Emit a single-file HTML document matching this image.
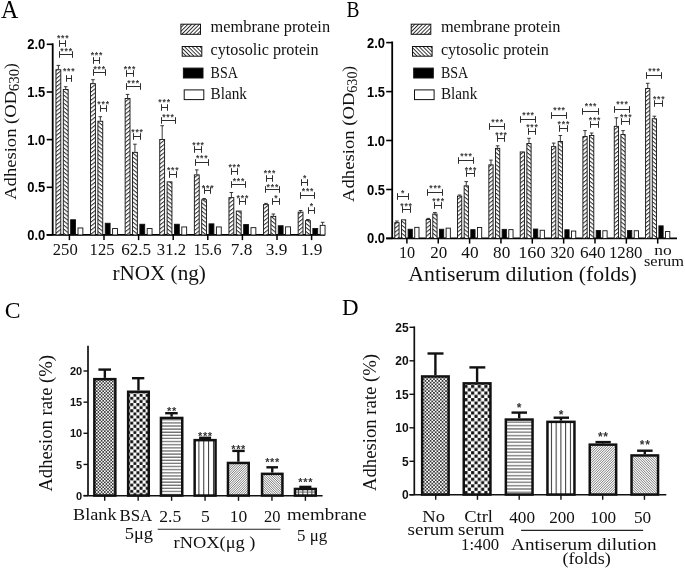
<!DOCTYPE html>
<html><head><meta charset="utf-8"><title>Figure</title>
<style>html,body{margin:0;padding:0;background:#fff;overflow:hidden;}svg{display:block;}</style>
</head><body>
<svg width="685" height="573" viewBox="0 0 685 573">
<defs>
<pattern id="hf" width="6" height="3.2" patternUnits="userSpaceOnUse" patternTransform="rotate(-38)"><rect width="6" height="3.2" fill="#fff"/><rect width="6" height="1.05" fill="#333"/></pattern>
<pattern id="hb" width="6" height="3.2" patternUnits="userSpaceOnUse" patternTransform="rotate(38)"><rect width="6" height="3.2" fill="#fff"/><rect width="6" height="1.05" fill="#333"/></pattern>
<pattern id="lgf" width="6" height="2.72" patternUnits="userSpaceOnUse" patternTransform="rotate(-45)"><rect width="6" height="2.72" fill="#fff"/><rect width="6" height="0.95" fill="#2a2a2a"/></pattern>
<pattern id="lgb" width="6" height="2.72" patternUnits="userSpaceOnUse" patternTransform="rotate(45)"><rect width="6" height="2.72" fill="#fff"/><rect width="6" height="0.95" fill="#2a2a2a"/></pattern>
<pattern id="lfC" width="6" height="1.556" patternUnits="userSpaceOnUse" patternTransform="rotate(-45)"><rect width="6" height="1.556" fill="#fff"/><rect width="6" height="0.72" fill="#2a2a2a"/></pattern>
<pattern id="lbC" width="6" height="1.556" patternUnits="userSpaceOnUse" patternTransform="rotate(45)"><rect width="6" height="1.556" fill="#fff"/><rect width="6" height="0.72" fill="#2a2a2a"/></pattern>
<pattern id="fcC" width="3.200" height="3.200" patternUnits="userSpaceOnUse"><rect width="3.200" height="3.200" fill="#fafafa"/><rect width="1.600" height="1.600" fill="#3a3a3a"/><rect x="1.600" y="1.600" width="1.600" height="1.600" fill="#3a3a3a"/></pattern>
<pattern id="ccC" width="6.200" height="6.200" patternUnits="userSpaceOnUse"><rect width="6.200" height="6.200" fill="#fff"/><rect x="0.1" y="0.1" width="2.900" height="2.900" fill="#111"/><rect x="3.200" y="3.200" width="2.900" height="2.900" fill="#111"/></pattern>
<pattern id="hlC" width="4" height="3.120" patternUnits="userSpaceOnUse"><rect width="4" height="3.120" fill="#fff"/><rect y="1.2" width="4" height="0.9" fill="#333"/></pattern>
<pattern id="lfD" width="6" height="1.665" patternUnits="userSpaceOnUse" patternTransform="rotate(-45)"><rect width="6" height="1.665" fill="#fff"/><rect width="6" height="0.72" fill="#2a2a2a"/></pattern>
<pattern id="lbD" width="6" height="1.665" patternUnits="userSpaceOnUse" patternTransform="rotate(45)"><rect width="6" height="1.665" fill="#fff"/><rect width="6" height="0.72" fill="#2a2a2a"/></pattern>
<pattern id="fcD" width="3.424" height="3.424" patternUnits="userSpaceOnUse"><rect width="3.424" height="3.424" fill="#fafafa"/><rect width="1.712" height="1.712" fill="#3a3a3a"/><rect x="1.712" y="1.712" width="1.712" height="1.712" fill="#3a3a3a"/></pattern>
<pattern id="ccD" width="6.634" height="6.634" patternUnits="userSpaceOnUse"><rect width="6.634" height="6.634" fill="#fff"/><rect x="0.1" y="0.1" width="3.117" height="3.117" fill="#111"/><rect x="3.417" y="3.417" width="3.117" height="3.117" fill="#111"/></pattern>
<pattern id="hlD" width="4" height="3.338" patternUnits="userSpaceOnUse"><rect width="4" height="3.338" fill="#fff"/><rect y="1.2" width="4" height="0.9" fill="#333"/></pattern>
<pattern id="vlC" x="198.4" width="4.85" height="4" patternUnits="userSpaceOnUse"><rect width="4.85" height="4" fill="#fff"/><rect width="1" height="4" fill="#333"/></pattern>
<pattern id="vlD" x="550.9" width="4.75" height="4" patternUnits="userSpaceOnUse"><rect width="4.75" height="4" fill="#fff"/><rect width="1" height="4" fill="#333"/></pattern>
<pattern id="gr" x="297.9" y="490.6" width="4.5" height="3.4" patternUnits="userSpaceOnUse"><rect width="4.5" height="3.4" fill="#fff"/><rect width="1" height="3.4" fill="#333"/><rect y="1.1" width="4.5" height="1" fill="#555"/></pattern>
</defs>
<rect width="685" height="573" fill="#fff"/>
<text x="0.9" y="17.6" font-size="24.5" font-family='"Liberation Serif", serif' textLength="17.3" lengthAdjust="spacingAndGlyphs" fill="#000">A</text>
<text x="346.4" y="16.9" font-size="24" font-family='"Liberation Serif", serif' textLength="13.0" lengthAdjust="spacingAndGlyphs" fill="#000">B</text>
<text x="4.8" y="318.0" font-size="24" font-family='"Liberation Serif", serif' textLength="15.8" lengthAdjust="spacingAndGlyphs" fill="#000">C</text>
<text x="341.9" y="315.4" font-size="24" font-family='"Liberation Serif", serif' textLength="16.6" lengthAdjust="spacingAndGlyphs" fill="#000">D</text>
<line x1="52.70" y1="43.30" x2="52.70" y2="234.90" stroke="#000" stroke-width="1.8"/>
<line x1="46.70" y1="44.30" x2="52.70" y2="44.30" stroke="#000" stroke-width="1.6"/>
<text x="45.3" y="49.3" font-size="14" font-family='"Liberation Sans", sans-serif' font-weight="bold" text-anchor="end" textLength="18.0" lengthAdjust="spacingAndGlyphs" fill="#000">2.0</text>
<line x1="46.70" y1="92.00" x2="52.70" y2="92.00" stroke="#000" stroke-width="1.6"/>
<text x="45.3" y="97.0" font-size="14" font-family='"Liberation Sans", sans-serif' font-weight="bold" text-anchor="end" textLength="18.0" lengthAdjust="spacingAndGlyphs" fill="#000">1.5</text>
<line x1="46.70" y1="139.60" x2="52.70" y2="139.60" stroke="#000" stroke-width="1.6"/>
<text x="45.3" y="144.6" font-size="14" font-family='"Liberation Sans", sans-serif' font-weight="bold" text-anchor="end" textLength="18.0" lengthAdjust="spacingAndGlyphs" fill="#000">1.0</text>
<line x1="46.70" y1="187.30" x2="52.70" y2="187.30" stroke="#000" stroke-width="1.6"/>
<text x="45.3" y="192.3" font-size="14" font-family='"Liberation Sans", sans-serif' font-weight="bold" text-anchor="end" textLength="18.0" lengthAdjust="spacingAndGlyphs" fill="#000">0.5</text>
<line x1="46.70" y1="234.90" x2="52.70" y2="234.90" stroke="#000" stroke-width="1.6"/>
<text x="45.3" y="239.9" font-size="14" font-family='"Liberation Sans", sans-serif' font-weight="bold" text-anchor="end" textLength="18.0" lengthAdjust="spacingAndGlyphs" fill="#000">0.0</text>
<line x1="46.70" y1="234.90" x2="325.00" y2="234.90" stroke="#000" stroke-width="1.8"/>
<line x1="69.40" y1="234.90" x2="69.40" y2="240.10" stroke="#000" stroke-width="1.5"/>
<line x1="104.00" y1="234.90" x2="104.00" y2="240.10" stroke="#000" stroke-width="1.5"/>
<line x1="138.60" y1="234.90" x2="138.60" y2="240.10" stroke="#000" stroke-width="1.5"/>
<line x1="173.20" y1="234.90" x2="173.20" y2="240.10" stroke="#000" stroke-width="1.5"/>
<line x1="207.80" y1="234.90" x2="207.80" y2="240.10" stroke="#000" stroke-width="1.5"/>
<line x1="242.40" y1="234.90" x2="242.40" y2="240.10" stroke="#000" stroke-width="1.5"/>
<line x1="277.00" y1="234.90" x2="277.00" y2="240.10" stroke="#000" stroke-width="1.5"/>
<line x1="311.60" y1="234.90" x2="311.60" y2="240.10" stroke="#000" stroke-width="1.5"/>
<line x1="58.38" y1="65.40" x2="58.38" y2="69.30" stroke="#222" stroke-width="0.9"/>
<line x1="56.58" y1="65.40" x2="60.18" y2="65.40" stroke="#222" stroke-width="0.9"/>
<rect x="55.95" y="69.75" width="4.85" height="165.20" fill="url(#hf)" stroke="#111" stroke-width="0.9"/>
<line x1="65.73" y1="86.70" x2="65.73" y2="89.00" stroke="#222" stroke-width="0.9"/>
<line x1="63.93" y1="86.70" x2="67.53" y2="86.70" stroke="#222" stroke-width="0.9"/>
<rect x="63.30" y="89.45" width="4.85" height="145.50" fill="url(#hb)" stroke="#111" stroke-width="0.9"/>
<rect x="70.65" y="219.75" width="4.85" height="15.20" fill="#000" stroke="#111" stroke-width="0.9"/>
<rect x="78.00" y="227.95" width="4.85" height="7.00" fill="#fff" stroke="#111" stroke-width="0.9"/>
<line x1="59.50" y1="43.50" x2="65.50" y2="43.50" stroke="#2e2e2e" stroke-width="1.0"/>
<line x1="59.50" y1="40.20" x2="59.50" y2="46.80" stroke="#2e2e2e" stroke-width="1.0"/>
<line x1="65.50" y1="40.20" x2="65.50" y2="46.80" stroke="#2e2e2e" stroke-width="1.0"/>
<text x="62.8" y="41.3" font-size="8.6" font-family='"Liberation Sans", sans-serif' font-weight="bold" text-anchor="middle" fill="#3a3a3a" textLength="11.7" lengthAdjust="spacing">***</text>
<line x1="59.50" y1="54.50" x2="72.50" y2="54.50" stroke="#2e2e2e" stroke-width="1.0"/>
<line x1="59.50" y1="51.20" x2="59.50" y2="57.80" stroke="#2e2e2e" stroke-width="1.0"/>
<line x1="72.50" y1="51.20" x2="72.50" y2="57.80" stroke="#2e2e2e" stroke-width="1.0"/>
<text x="66.2" y="53.5" font-size="8.6" font-family='"Liberation Sans", sans-serif' font-weight="bold" text-anchor="middle" fill="#3a3a3a" textLength="11.7" lengthAdjust="spacing">***</text>
<line x1="66.50" y1="78.50" x2="71.50" y2="78.50" stroke="#2e2e2e" stroke-width="1.0"/>
<line x1="66.50" y1="75.20" x2="66.50" y2="81.80" stroke="#2e2e2e" stroke-width="1.0"/>
<line x1="71.50" y1="75.20" x2="71.50" y2="81.80" stroke="#2e2e2e" stroke-width="1.0"/>
<text x="68.8" y="74.0" font-size="8.6" font-family='"Liberation Sans", sans-serif' font-weight="bold" text-anchor="middle" fill="#3a3a3a" textLength="11.7" lengthAdjust="spacing">***</text>
<line x1="92.97" y1="79.70" x2="92.97" y2="83.20" stroke="#222" stroke-width="0.9"/>
<line x1="91.17" y1="79.70" x2="94.77" y2="79.70" stroke="#222" stroke-width="0.9"/>
<rect x="90.55" y="83.65" width="4.85" height="151.30" fill="url(#hf)" stroke="#111" stroke-width="0.9"/>
<line x1="100.33" y1="116.70" x2="100.33" y2="120.80" stroke="#222" stroke-width="0.9"/>
<line x1="98.53" y1="116.70" x2="102.12" y2="116.70" stroke="#222" stroke-width="0.9"/>
<rect x="97.90" y="121.25" width="4.85" height="113.70" fill="url(#hb)" stroke="#111" stroke-width="0.9"/>
<rect x="105.25" y="223.25" width="4.85" height="11.70" fill="#000" stroke="#111" stroke-width="0.9"/>
<rect x="112.60" y="228.55" width="4.85" height="6.40" fill="#fff" stroke="#111" stroke-width="0.9"/>
<line x1="93.50" y1="60.50" x2="99.50" y2="60.50" stroke="#2e2e2e" stroke-width="1.0"/>
<line x1="93.50" y1="57.20" x2="93.50" y2="63.80" stroke="#2e2e2e" stroke-width="1.0"/>
<line x1="99.50" y1="57.20" x2="99.50" y2="63.80" stroke="#2e2e2e" stroke-width="1.0"/>
<text x="96.5" y="57.9" font-size="8.6" font-family='"Liberation Sans", sans-serif' font-weight="bold" text-anchor="middle" fill="#3a3a3a" textLength="11.7" lengthAdjust="spacing">***</text>
<line x1="93.50" y1="72.50" x2="105.50" y2="72.50" stroke="#2e2e2e" stroke-width="1.0"/>
<line x1="93.50" y1="69.20" x2="93.50" y2="75.80" stroke="#2e2e2e" stroke-width="1.0"/>
<line x1="105.50" y1="69.20" x2="105.50" y2="75.80" stroke="#2e2e2e" stroke-width="1.0"/>
<text x="99.3" y="71.5" font-size="8.6" font-family='"Liberation Sans", sans-serif' font-weight="bold" text-anchor="middle" fill="#3a3a3a" textLength="11.7" lengthAdjust="spacing">***</text>
<line x1="100.50" y1="108.50" x2="106.50" y2="108.50" stroke="#2e2e2e" stroke-width="1.0"/>
<line x1="100.50" y1="105.20" x2="100.50" y2="111.80" stroke="#2e2e2e" stroke-width="1.0"/>
<line x1="106.50" y1="105.20" x2="106.50" y2="111.80" stroke="#2e2e2e" stroke-width="1.0"/>
<text x="103.2" y="106.7" font-size="8.6" font-family='"Liberation Sans", sans-serif' font-weight="bold" text-anchor="middle" fill="#3a3a3a" textLength="11.7" lengthAdjust="spacing">***</text>
<line x1="127.58" y1="94.40" x2="127.58" y2="98.00" stroke="#222" stroke-width="0.9"/>
<line x1="125.78" y1="94.40" x2="129.38" y2="94.40" stroke="#222" stroke-width="0.9"/>
<rect x="125.15" y="98.45" width="4.85" height="136.50" fill="url(#hf)" stroke="#111" stroke-width="0.9"/>
<line x1="134.93" y1="144.20" x2="134.93" y2="151.90" stroke="#222" stroke-width="0.9"/>
<line x1="133.12" y1="144.20" x2="136.73" y2="144.20" stroke="#222" stroke-width="0.9"/>
<rect x="132.50" y="152.35" width="4.85" height="82.60" fill="url(#hb)" stroke="#111" stroke-width="0.9"/>
<rect x="139.85" y="224.25" width="4.85" height="10.70" fill="#000" stroke="#111" stroke-width="0.9"/>
<rect x="147.20" y="228.55" width="4.85" height="6.40" fill="#fff" stroke="#111" stroke-width="0.9"/>
<line x1="126.50" y1="73.50" x2="133.50" y2="73.50" stroke="#2e2e2e" stroke-width="1.0"/>
<line x1="126.50" y1="70.20" x2="126.50" y2="76.80" stroke="#2e2e2e" stroke-width="1.0"/>
<line x1="133.50" y1="70.20" x2="133.50" y2="76.80" stroke="#2e2e2e" stroke-width="1.0"/>
<text x="129.5" y="72.1" font-size="8.6" font-family='"Liberation Sans", sans-serif' font-weight="bold" text-anchor="middle" fill="#3a3a3a" textLength="11.7" lengthAdjust="spacing">***</text>
<line x1="126.50" y1="86.50" x2="140.50" y2="86.50" stroke="#2e2e2e" stroke-width="1.0"/>
<line x1="126.50" y1="83.20" x2="126.50" y2="89.80" stroke="#2e2e2e" stroke-width="1.0"/>
<line x1="140.50" y1="83.20" x2="140.50" y2="89.80" stroke="#2e2e2e" stroke-width="1.0"/>
<text x="133.2" y="85.5" font-size="8.6" font-family='"Liberation Sans", sans-serif' font-weight="bold" text-anchor="middle" fill="#3a3a3a" textLength="11.7" lengthAdjust="spacing">***</text>
<line x1="133.50" y1="136.50" x2="140.50" y2="136.50" stroke="#2e2e2e" stroke-width="1.0"/>
<line x1="133.50" y1="133.20" x2="133.50" y2="139.80" stroke="#2e2e2e" stroke-width="1.0"/>
<line x1="140.50" y1="133.20" x2="140.50" y2="139.80" stroke="#2e2e2e" stroke-width="1.0"/>
<text x="137.1" y="134.9" font-size="8.6" font-family='"Liberation Sans", sans-serif' font-weight="bold" text-anchor="middle" fill="#3a3a3a" textLength="11.7" lengthAdjust="spacing">***</text>
<line x1="162.18" y1="125.70" x2="162.18" y2="139.00" stroke="#222" stroke-width="0.9"/>
<line x1="160.38" y1="125.70" x2="163.98" y2="125.70" stroke="#222" stroke-width="0.9"/>
<rect x="159.75" y="139.45" width="4.85" height="95.50" fill="url(#hf)" stroke="#111" stroke-width="0.9"/>
<rect x="167.10" y="181.85" width="4.85" height="53.10" fill="url(#hb)" stroke="#111" stroke-width="0.9"/>
<rect x="174.45" y="224.25" width="4.85" height="10.70" fill="#000" stroke="#111" stroke-width="0.9"/>
<rect x="181.80" y="226.95" width="4.85" height="8.00" fill="#fff" stroke="#111" stroke-width="0.9"/>
<line x1="161.50" y1="107.50" x2="167.50" y2="107.50" stroke="#2e2e2e" stroke-width="1.0"/>
<line x1="161.50" y1="104.20" x2="161.50" y2="110.80" stroke="#2e2e2e" stroke-width="1.0"/>
<line x1="167.50" y1="104.20" x2="167.50" y2="110.80" stroke="#2e2e2e" stroke-width="1.0"/>
<text x="164.2" y="104.9" font-size="8.6" font-family='"Liberation Sans", sans-serif' font-weight="bold" text-anchor="middle" fill="#3a3a3a" textLength="11.7" lengthAdjust="spacing">***</text>
<line x1="161.50" y1="120.50" x2="175.50" y2="120.50" stroke="#2e2e2e" stroke-width="1.0"/>
<line x1="161.50" y1="117.20" x2="161.50" y2="123.80" stroke="#2e2e2e" stroke-width="1.0"/>
<line x1="175.50" y1="117.20" x2="175.50" y2="123.80" stroke="#2e2e2e" stroke-width="1.0"/>
<text x="168.0" y="120.1" font-size="8.6" font-family='"Liberation Sans", sans-serif' font-weight="bold" text-anchor="middle" fill="#3a3a3a" textLength="11.7" lengthAdjust="spacing">***</text>
<line x1="169.50" y1="174.50" x2="176.50" y2="174.50" stroke="#2e2e2e" stroke-width="1.0"/>
<line x1="169.50" y1="171.20" x2="169.50" y2="177.80" stroke="#2e2e2e" stroke-width="1.0"/>
<line x1="176.50" y1="171.20" x2="176.50" y2="177.80" stroke="#2e2e2e" stroke-width="1.0"/>
<text x="172.8" y="173.2" font-size="8.6" font-family='"Liberation Sans", sans-serif' font-weight="bold" text-anchor="middle" fill="#3a3a3a" textLength="11.7" lengthAdjust="spacing">***</text>
<line x1="196.78" y1="169.90" x2="196.78" y2="174.40" stroke="#222" stroke-width="0.9"/>
<line x1="194.97" y1="169.90" x2="198.58" y2="169.90" stroke="#222" stroke-width="0.9"/>
<rect x="194.35" y="174.85" width="4.85" height="60.10" fill="url(#hf)" stroke="#111" stroke-width="0.9"/>
<line x1="204.12" y1="198.50" x2="204.12" y2="199.30" stroke="#222" stroke-width="0.9"/>
<line x1="202.32" y1="198.50" x2="205.93" y2="198.50" stroke="#222" stroke-width="0.9"/>
<rect x="201.70" y="199.75" width="4.85" height="35.20" fill="url(#hb)" stroke="#111" stroke-width="0.9"/>
<rect x="209.05" y="223.85" width="4.85" height="11.10" fill="#000" stroke="#111" stroke-width="0.9"/>
<rect x="216.40" y="226.95" width="4.85" height="8.00" fill="#fff" stroke="#111" stroke-width="0.9"/>
<line x1="194.50" y1="149.50" x2="201.50" y2="149.50" stroke="#2e2e2e" stroke-width="1.0"/>
<line x1="194.50" y1="146.20" x2="194.50" y2="152.80" stroke="#2e2e2e" stroke-width="1.0"/>
<line x1="201.50" y1="146.20" x2="201.50" y2="152.80" stroke="#2e2e2e" stroke-width="1.0"/>
<text x="198.1" y="147.9" font-size="8.6" font-family='"Liberation Sans", sans-serif' font-weight="bold" text-anchor="middle" fill="#3a3a3a" textLength="11.7" lengthAdjust="spacing">***</text>
<line x1="195.50" y1="162.50" x2="208.50" y2="162.50" stroke="#2e2e2e" stroke-width="1.0"/>
<line x1="195.50" y1="159.20" x2="195.50" y2="165.80" stroke="#2e2e2e" stroke-width="1.0"/>
<line x1="208.50" y1="159.20" x2="208.50" y2="165.80" stroke="#2e2e2e" stroke-width="1.0"/>
<text x="201.8" y="161.4" font-size="8.6" font-family='"Liberation Sans", sans-serif' font-weight="bold" text-anchor="middle" fill="#3a3a3a" textLength="11.7" lengthAdjust="spacing">***</text>
<line x1="204.50" y1="190.50" x2="210.50" y2="190.50" stroke="#2e2e2e" stroke-width="1.0"/>
<line x1="204.50" y1="187.20" x2="204.50" y2="193.80" stroke="#2e2e2e" stroke-width="1.0"/>
<line x1="210.50" y1="187.20" x2="210.50" y2="193.80" stroke="#2e2e2e" stroke-width="1.0"/>
<text x="207.7" y="190.5" font-size="8.6" font-family='"Liberation Sans", sans-serif' font-weight="bold" text-anchor="middle" fill="#3a3a3a" textLength="11.7" lengthAdjust="spacing">***</text>
<line x1="231.38" y1="192.50" x2="231.38" y2="197.20" stroke="#222" stroke-width="0.9"/>
<line x1="229.57" y1="192.50" x2="233.18" y2="192.50" stroke="#222" stroke-width="0.9"/>
<rect x="228.95" y="197.65" width="4.85" height="37.30" fill="url(#hf)" stroke="#111" stroke-width="0.9"/>
<rect x="236.30" y="211.05" width="4.85" height="23.90" fill="url(#hb)" stroke="#111" stroke-width="0.9"/>
<rect x="243.65" y="224.55" width="4.85" height="10.40" fill="#000" stroke="#111" stroke-width="0.9"/>
<rect x="251.00" y="227.65" width="4.85" height="7.30" fill="#fff" stroke="#111" stroke-width="0.9"/>
<line x1="231.50" y1="171.50" x2="237.50" y2="171.50" stroke="#2e2e2e" stroke-width="1.0"/>
<line x1="231.50" y1="168.20" x2="231.50" y2="174.80" stroke="#2e2e2e" stroke-width="1.0"/>
<line x1="237.50" y1="168.20" x2="237.50" y2="174.80" stroke="#2e2e2e" stroke-width="1.0"/>
<text x="234.3" y="170.1" font-size="8.6" font-family='"Liberation Sans", sans-serif' font-weight="bold" text-anchor="middle" fill="#3a3a3a" textLength="11.7" lengthAdjust="spacing">***</text>
<line x1="231.50" y1="184.50" x2="245.50" y2="184.50" stroke="#2e2e2e" stroke-width="1.0"/>
<line x1="231.50" y1="181.20" x2="231.50" y2="187.80" stroke="#2e2e2e" stroke-width="1.0"/>
<line x1="245.50" y1="181.20" x2="245.50" y2="187.80" stroke="#2e2e2e" stroke-width="1.0"/>
<text x="238.5" y="183.7" font-size="8.6" font-family='"Liberation Sans", sans-serif' font-weight="bold" text-anchor="middle" fill="#3a3a3a" textLength="11.7" lengthAdjust="spacing">***</text>
<line x1="239.50" y1="201.50" x2="245.50" y2="201.50" stroke="#2e2e2e" stroke-width="1.0"/>
<line x1="239.50" y1="198.20" x2="239.50" y2="204.80" stroke="#2e2e2e" stroke-width="1.0"/>
<line x1="245.50" y1="198.20" x2="245.50" y2="204.80" stroke="#2e2e2e" stroke-width="1.0"/>
<text x="242.4" y="200.6" font-size="8.6" font-family='"Liberation Sans", sans-serif' font-weight="bold" text-anchor="middle" fill="#3a3a3a" textLength="11.7" lengthAdjust="spacing">***</text>
<line x1="265.98" y1="203.40" x2="265.98" y2="204.20" stroke="#222" stroke-width="0.9"/>
<line x1="264.18" y1="203.40" x2="267.78" y2="203.40" stroke="#222" stroke-width="0.9"/>
<rect x="263.55" y="204.65" width="4.85" height="30.30" fill="url(#hf)" stroke="#111" stroke-width="0.9"/>
<line x1="273.32" y1="214.00" x2="273.32" y2="215.90" stroke="#222" stroke-width="0.9"/>
<line x1="271.52" y1="214.00" x2="275.12" y2="214.00" stroke="#222" stroke-width="0.9"/>
<rect x="270.90" y="216.35" width="4.85" height="18.60" fill="url(#hb)" stroke="#111" stroke-width="0.9"/>
<rect x="278.25" y="225.75" width="4.85" height="9.20" fill="#000" stroke="#111" stroke-width="0.9"/>
<rect x="285.60" y="226.85" width="4.85" height="8.10" fill="#fff" stroke="#111" stroke-width="0.9"/>
<line x1="266.50" y1="178.50" x2="272.50" y2="178.50" stroke="#2e2e2e" stroke-width="1.0"/>
<line x1="266.50" y1="175.20" x2="266.50" y2="181.80" stroke="#2e2e2e" stroke-width="1.0"/>
<line x1="272.50" y1="175.20" x2="272.50" y2="181.80" stroke="#2e2e2e" stroke-width="1.0"/>
<text x="269.5" y="175.5" font-size="8.6" font-family='"Liberation Sans", sans-serif' font-weight="bold" text-anchor="middle" fill="#3a3a3a" textLength="11.7" lengthAdjust="spacing">***</text>
<line x1="265.50" y1="189.50" x2="279.50" y2="189.50" stroke="#2e2e2e" stroke-width="1.0"/>
<line x1="265.50" y1="186.20" x2="265.50" y2="192.80" stroke="#2e2e2e" stroke-width="1.0"/>
<line x1="279.50" y1="186.20" x2="279.50" y2="192.80" stroke="#2e2e2e" stroke-width="1.0"/>
<text x="272.4" y="189.7" font-size="8.6" font-family='"Liberation Sans", sans-serif' font-weight="bold" text-anchor="middle" fill="#3a3a3a" textLength="11.7" lengthAdjust="spacing">***</text>
<line x1="272.50" y1="201.50" x2="279.50" y2="201.50" stroke="#2e2e2e" stroke-width="1.0"/>
<line x1="272.50" y1="198.20" x2="272.50" y2="204.80" stroke="#2e2e2e" stroke-width="1.0"/>
<line x1="279.50" y1="198.20" x2="279.50" y2="204.80" stroke="#2e2e2e" stroke-width="1.0"/>
<text x="276.0" y="200.6" font-size="8.6" font-family='"Liberation Sans", sans-serif' font-weight="bold" text-anchor="middle" fill="#3a3a3a" textLength="3.9" lengthAdjust="spacing">*</text>
<line x1="300.58" y1="210.50" x2="300.58" y2="211.70" stroke="#222" stroke-width="0.9"/>
<line x1="298.78" y1="210.50" x2="302.38" y2="210.50" stroke="#222" stroke-width="0.9"/>
<rect x="298.15" y="212.15" width="4.85" height="22.80" fill="url(#hf)" stroke="#111" stroke-width="0.9"/>
<line x1="307.93" y1="219.50" x2="307.93" y2="220.20" stroke="#222" stroke-width="0.9"/>
<line x1="306.12" y1="219.50" x2="309.73" y2="219.50" stroke="#222" stroke-width="0.9"/>
<rect x="305.50" y="220.65" width="4.85" height="14.30" fill="url(#hb)" stroke="#111" stroke-width="0.9"/>
<rect x="312.85" y="228.45" width="4.85" height="6.50" fill="#000" stroke="#111" stroke-width="0.9"/>
<line x1="322.62" y1="222.30" x2="322.62" y2="224.90" stroke="#222" stroke-width="0.9"/>
<line x1="320.82" y1="222.30" x2="324.43" y2="222.30" stroke="#222" stroke-width="0.9"/>
<rect x="320.20" y="225.35" width="4.85" height="9.60" fill="#fff" stroke="#111" stroke-width="0.9"/>
<line x1="301.50" y1="182.50" x2="307.50" y2="182.50" stroke="#2e2e2e" stroke-width="1.0"/>
<line x1="301.50" y1="179.20" x2="301.50" y2="185.80" stroke="#2e2e2e" stroke-width="1.0"/>
<line x1="307.50" y1="179.20" x2="307.50" y2="185.80" stroke="#2e2e2e" stroke-width="1.0"/>
<text x="304.6" y="180.5" font-size="8.6" font-family='"Liberation Sans", sans-serif' font-weight="bold" text-anchor="middle" fill="#3a3a3a" textLength="3.9" lengthAdjust="spacing">*</text>
<line x1="300.50" y1="195.50" x2="314.50" y2="195.50" stroke="#2e2e2e" stroke-width="1.0"/>
<line x1="300.50" y1="192.20" x2="300.50" y2="198.80" stroke="#2e2e2e" stroke-width="1.0"/>
<line x1="314.50" y1="192.20" x2="314.50" y2="198.80" stroke="#2e2e2e" stroke-width="1.0"/>
<text x="307.6" y="194.3" font-size="8.6" font-family='"Liberation Sans", sans-serif' font-weight="bold" text-anchor="middle" fill="#3a3a3a" textLength="11.7" lengthAdjust="spacing">***</text>
<line x1="308.50" y1="210.50" x2="314.50" y2="210.50" stroke="#2e2e2e" stroke-width="1.0"/>
<line x1="308.50" y1="207.20" x2="308.50" y2="213.80" stroke="#2e2e2e" stroke-width="1.0"/>
<line x1="314.50" y1="207.20" x2="314.50" y2="213.80" stroke="#2e2e2e" stroke-width="1.0"/>
<text x="311.5" y="208.9" font-size="8.6" font-family='"Liberation Sans", sans-serif' font-weight="bold" text-anchor="middle" fill="#3a3a3a" textLength="3.9" lengthAdjust="spacing">*</text>
<rect x="180.90" y="24.20" width="19.60" height="10.10" fill="url(#lgf)" stroke="#111" stroke-width="1.0"/>
<text x="210.6" y="31.8" font-size="16.2" font-family='"Liberation Serif", serif' textLength="119.5" lengthAdjust="spacingAndGlyphs" fill="#111">membrane protein</text>
<rect x="182.20" y="46.50" width="19.60" height="9.70" fill="url(#lgb)" stroke="#111" stroke-width="1.0"/>
<text x="210.6" y="54.7" font-size="16.2" font-family='"Liberation Serif", serif' textLength="108.0" lengthAdjust="spacingAndGlyphs" fill="#111">cytosolic protein</text>
<rect x="183.40" y="68.10" width="19.60" height="9.90" fill="#000" stroke="#111" stroke-width="1.0"/>
<text x="210.6" y="77.5" font-size="16.2" font-family='"Liberation Serif", serif' textLength="27.3" lengthAdjust="spacingAndGlyphs" fill="#111">BSA</text>
<rect x="184.20" y="89.90" width="19.60" height="9.70" fill="#fff" stroke="#111" stroke-width="1.0"/>
<text x="210.6" y="99.4" font-size="16.2" font-family='"Liberation Serif", serif' textLength="36.4" lengthAdjust="spacingAndGlyphs" fill="#111">Blank</text>
<text x="52.8" y="255.4" font-size="17" font-family='"Liberation Serif", serif' textLength="24.9" lengthAdjust="spacingAndGlyphs" fill="#111">250</text>
<text x="89.6" y="255.4" font-size="17" font-family='"Liberation Serif", serif' textLength="24.9" lengthAdjust="spacingAndGlyphs" fill="#111">125</text>
<text x="121.2" y="255.4" font-size="17" font-family='"Liberation Serif", serif' textLength="29.9" lengthAdjust="spacingAndGlyphs" fill="#111">62.5</text>
<text x="156.8" y="255.4" font-size="17" font-family='"Liberation Serif", serif' textLength="29.3" lengthAdjust="spacingAndGlyphs" fill="#111">31.2</text>
<text x="193.5" y="255.4" font-size="17" font-family='"Liberation Serif", serif' textLength="28.1" lengthAdjust="spacingAndGlyphs" fill="#111">15.6</text>
<text x="230.7" y="255.4" font-size="17" font-family='"Liberation Serif", serif' textLength="21.6" lengthAdjust="spacingAndGlyphs" fill="#111">7.8</text>
<text x="265.7" y="255.4" font-size="17" font-family='"Liberation Serif", serif' textLength="21.6" lengthAdjust="spacingAndGlyphs" fill="#111">3.9</text>
<text x="300.7" y="255.4" font-size="17" font-family='"Liberation Serif", serif' textLength="21.7" lengthAdjust="spacingAndGlyphs" fill="#111">1.9</text>
<text x="112.4" y="279.9" font-size="21" font-family='"Liberation Serif", serif' textLength="93.5" lengthAdjust="spacingAndGlyphs" fill="#111">rNOX (ng)</text>
<text x="0" y="0" font-size="17.6" font-family='"Liberation Serif", serif' fill="#111" transform="translate(15.7 199.8) rotate(-90)" textLength="108.9" lengthAdjust="spacingAndGlyphs">Adhesion (OD</text>
<text x="0" y="0" font-size="14.2" font-family='"Liberation Serif", serif' fill="#111" transform="translate(19.4 91.2) rotate(-90)" textLength="22.3" lengthAdjust="spacingAndGlyphs">630</text>
<text x="0" y="0" font-size="17.6" font-family='"Liberation Serif", serif' fill="#111" transform="translate(15.7 69.1) rotate(-90)">)</text>
<line x1="392.20" y1="41.50" x2="392.20" y2="238.40" stroke="#000" stroke-width="1.8"/>
<line x1="386.20" y1="42.60" x2="392.20" y2="42.60" stroke="#000" stroke-width="1.6"/>
<text x="385.0" y="47.6" font-size="14" font-family='"Liberation Sans", sans-serif' font-weight="bold" text-anchor="end" textLength="18.0" lengthAdjust="spacingAndGlyphs" fill="#000">2.0</text>
<line x1="386.20" y1="91.60" x2="392.20" y2="91.60" stroke="#000" stroke-width="1.6"/>
<text x="385.0" y="96.6" font-size="14" font-family='"Liberation Sans", sans-serif' font-weight="bold" text-anchor="end" textLength="18.0" lengthAdjust="spacingAndGlyphs" fill="#000">1.5</text>
<line x1="386.20" y1="140.50" x2="392.20" y2="140.50" stroke="#000" stroke-width="1.6"/>
<text x="385.0" y="145.5" font-size="14" font-family='"Liberation Sans", sans-serif' font-weight="bold" text-anchor="end" textLength="18.0" lengthAdjust="spacingAndGlyphs" fill="#000">1.0</text>
<line x1="386.20" y1="189.50" x2="392.20" y2="189.50" stroke="#000" stroke-width="1.6"/>
<text x="385.0" y="194.5" font-size="14" font-family='"Liberation Sans", sans-serif' font-weight="bold" text-anchor="end" textLength="18.0" lengthAdjust="spacingAndGlyphs" fill="#000">0.5</text>
<line x1="386.20" y1="238.40" x2="392.20" y2="238.40" stroke="#000" stroke-width="1.6"/>
<text x="385.0" y="243.4" font-size="14" font-family='"Liberation Sans", sans-serif' font-weight="bold" text-anchor="end" textLength="18.0" lengthAdjust="spacingAndGlyphs" fill="#000">0.0</text>
<line x1="386.20" y1="238.40" x2="677.00" y2="238.40" stroke="#000" stroke-width="1.8"/>
<line x1="406.90" y1="238.40" x2="406.90" y2="243.60" stroke="#000" stroke-width="1.5"/>
<line x1="438.25" y1="238.40" x2="438.25" y2="243.60" stroke="#000" stroke-width="1.5"/>
<line x1="469.60" y1="238.40" x2="469.60" y2="243.60" stroke="#000" stroke-width="1.5"/>
<line x1="500.95" y1="238.40" x2="500.95" y2="243.60" stroke="#000" stroke-width="1.5"/>
<line x1="532.30" y1="238.40" x2="532.30" y2="243.60" stroke="#000" stroke-width="1.5"/>
<line x1="563.65" y1="238.40" x2="563.65" y2="243.60" stroke="#000" stroke-width="1.5"/>
<line x1="595.00" y1="238.40" x2="595.00" y2="243.60" stroke="#000" stroke-width="1.5"/>
<line x1="626.35" y1="238.40" x2="626.35" y2="243.60" stroke="#000" stroke-width="1.5"/>
<line x1="657.70" y1="238.40" x2="657.70" y2="243.60" stroke="#000" stroke-width="1.5"/>
<line x1="396.92" y1="221.00" x2="396.92" y2="222.20" stroke="#222" stroke-width="0.9"/>
<line x1="395.12" y1="221.00" x2="398.72" y2="221.00" stroke="#222" stroke-width="0.9"/>
<rect x="394.80" y="222.65" width="4.25" height="15.80" fill="url(#hf)" stroke="#111" stroke-width="0.9"/>
<rect x="401.45" y="219.85" width="4.25" height="18.60" fill="url(#hb)" stroke="#111" stroke-width="0.9"/>
<rect x="408.10" y="229.25" width="4.25" height="9.20" fill="#000" stroke="#111" stroke-width="0.9"/>
<rect x="414.75" y="227.35" width="4.25" height="11.10" fill="#fff" stroke="#111" stroke-width="0.9"/>
<line x1="397.50" y1="196.50" x2="408.50" y2="196.50" stroke="#2e2e2e" stroke-width="1.0"/>
<line x1="397.50" y1="193.20" x2="397.50" y2="199.80" stroke="#2e2e2e" stroke-width="1.0"/>
<line x1="408.50" y1="193.20" x2="408.50" y2="199.80" stroke="#2e2e2e" stroke-width="1.0"/>
<text x="402.8" y="195.9" font-size="8.6" font-family='"Liberation Sans", sans-serif' font-weight="bold" text-anchor="middle" fill="#3a3a3a" textLength="3.9" lengthAdjust="spacing">*</text>
<line x1="402.50" y1="209.50" x2="410.50" y2="209.50" stroke="#2e2e2e" stroke-width="1.0"/>
<line x1="402.50" y1="206.20" x2="402.50" y2="212.80" stroke="#2e2e2e" stroke-width="1.0"/>
<line x1="410.50" y1="206.20" x2="410.50" y2="212.80" stroke="#2e2e2e" stroke-width="1.0"/>
<text x="406.1" y="208.5" font-size="8.6" font-family='"Liberation Sans", sans-serif' font-weight="bold" text-anchor="middle" fill="#3a3a3a" textLength="11.7" lengthAdjust="spacing">***</text>
<line x1="428.27" y1="218.40" x2="428.27" y2="219.10" stroke="#222" stroke-width="0.9"/>
<line x1="426.47" y1="218.40" x2="430.07" y2="218.40" stroke="#222" stroke-width="0.9"/>
<rect x="426.15" y="219.55" width="4.25" height="18.90" fill="url(#hf)" stroke="#111" stroke-width="0.9"/>
<line x1="434.93" y1="212.50" x2="434.93" y2="213.60" stroke="#222" stroke-width="0.9"/>
<line x1="433.12" y1="212.50" x2="436.73" y2="212.50" stroke="#222" stroke-width="0.9"/>
<rect x="432.80" y="214.05" width="4.25" height="24.40" fill="url(#hb)" stroke="#111" stroke-width="0.9"/>
<rect x="439.45" y="229.25" width="4.25" height="9.20" fill="#000" stroke="#111" stroke-width="0.9"/>
<rect x="446.10" y="228.15" width="4.25" height="10.30" fill="#fff" stroke="#111" stroke-width="0.9"/>
<line x1="427.50" y1="192.50" x2="442.50" y2="192.50" stroke="#2e2e2e" stroke-width="1.0"/>
<line x1="427.50" y1="189.20" x2="427.50" y2="195.80" stroke="#2e2e2e" stroke-width="1.0"/>
<line x1="442.50" y1="189.20" x2="442.50" y2="195.80" stroke="#2e2e2e" stroke-width="1.0"/>
<text x="435.1" y="191.2" font-size="8.6" font-family='"Liberation Sans", sans-serif' font-weight="bold" text-anchor="middle" fill="#3a3a3a" textLength="11.7" lengthAdjust="spacing">***</text>
<line x1="434.50" y1="205.50" x2="441.50" y2="205.50" stroke="#2e2e2e" stroke-width="1.0"/>
<line x1="434.50" y1="202.20" x2="434.50" y2="208.80" stroke="#2e2e2e" stroke-width="1.0"/>
<line x1="441.50" y1="202.20" x2="441.50" y2="208.80" stroke="#2e2e2e" stroke-width="1.0"/>
<text x="438.2" y="204.2" font-size="8.6" font-family='"Liberation Sans", sans-serif' font-weight="bold" text-anchor="middle" fill="#3a3a3a" textLength="11.7" lengthAdjust="spacing">***</text>
<line x1="459.62" y1="195.00" x2="459.62" y2="195.70" stroke="#222" stroke-width="0.9"/>
<line x1="457.82" y1="195.00" x2="461.42" y2="195.00" stroke="#222" stroke-width="0.9"/>
<rect x="457.50" y="196.15" width="4.25" height="42.30" fill="url(#hf)" stroke="#111" stroke-width="0.9"/>
<line x1="466.27" y1="181.60" x2="466.27" y2="185.40" stroke="#222" stroke-width="0.9"/>
<line x1="464.47" y1="181.60" x2="468.07" y2="181.60" stroke="#222" stroke-width="0.9"/>
<rect x="464.15" y="185.85" width="4.25" height="52.60" fill="url(#hb)" stroke="#111" stroke-width="0.9"/>
<rect x="470.80" y="229.65" width="4.25" height="8.80" fill="#000" stroke="#111" stroke-width="0.9"/>
<rect x="477.45" y="227.45" width="4.25" height="11.00" fill="#fff" stroke="#111" stroke-width="0.9"/>
<line x1="458.50" y1="160.50" x2="473.50" y2="160.50" stroke="#2e2e2e" stroke-width="1.0"/>
<line x1="458.50" y1="157.20" x2="458.50" y2="163.80" stroke="#2e2e2e" stroke-width="1.0"/>
<line x1="473.50" y1="157.20" x2="473.50" y2="163.80" stroke="#2e2e2e" stroke-width="1.0"/>
<text x="466.0" y="159.2" font-size="8.6" font-family='"Liberation Sans", sans-serif' font-weight="bold" text-anchor="middle" fill="#3a3a3a" textLength="11.7" lengthAdjust="spacing">***</text>
<line x1="466.50" y1="173.50" x2="474.50" y2="173.50" stroke="#2e2e2e" stroke-width="1.0"/>
<line x1="466.50" y1="170.20" x2="466.50" y2="176.80" stroke="#2e2e2e" stroke-width="1.0"/>
<line x1="474.50" y1="170.20" x2="474.50" y2="176.80" stroke="#2e2e2e" stroke-width="1.0"/>
<text x="470.5" y="172.6" font-size="8.6" font-family='"Liberation Sans", sans-serif' font-weight="bold" text-anchor="middle" fill="#3a3a3a" textLength="11.7" lengthAdjust="spacing">***</text>
<line x1="490.97" y1="160.10" x2="490.97" y2="164.40" stroke="#222" stroke-width="0.9"/>
<line x1="489.17" y1="160.10" x2="492.77" y2="160.10" stroke="#222" stroke-width="0.9"/>
<rect x="488.85" y="164.85" width="4.25" height="73.60" fill="url(#hf)" stroke="#111" stroke-width="0.9"/>
<line x1="497.62" y1="145.80" x2="497.62" y2="147.90" stroke="#222" stroke-width="0.9"/>
<line x1="495.82" y1="145.80" x2="499.43" y2="145.80" stroke="#222" stroke-width="0.9"/>
<rect x="495.50" y="148.35" width="4.25" height="90.10" fill="url(#hb)" stroke="#111" stroke-width="0.9"/>
<rect x="502.15" y="229.35" width="4.25" height="9.10" fill="#000" stroke="#111" stroke-width="0.9"/>
<rect x="508.80" y="229.65" width="4.25" height="8.80" fill="#fff" stroke="#111" stroke-width="0.9"/>
<line x1="489.50" y1="126.50" x2="504.50" y2="126.50" stroke="#2e2e2e" stroke-width="1.0"/>
<line x1="489.50" y1="123.20" x2="489.50" y2="129.80" stroke="#2e2e2e" stroke-width="1.0"/>
<line x1="504.50" y1="123.20" x2="504.50" y2="129.80" stroke="#2e2e2e" stroke-width="1.0"/>
<text x="497.2" y="124.7" font-size="8.6" font-family='"Liberation Sans", sans-serif' font-weight="bold" text-anchor="middle" fill="#3a3a3a" textLength="11.7" lengthAdjust="spacing">***</text>
<line x1="497.50" y1="138.50" x2="504.50" y2="138.50" stroke="#2e2e2e" stroke-width="1.0"/>
<line x1="497.50" y1="135.20" x2="497.50" y2="141.80" stroke="#2e2e2e" stroke-width="1.0"/>
<line x1="504.50" y1="135.20" x2="504.50" y2="141.80" stroke="#2e2e2e" stroke-width="1.0"/>
<text x="501.1" y="138.0" font-size="8.6" font-family='"Liberation Sans", sans-serif' font-weight="bold" text-anchor="middle" fill="#3a3a3a" textLength="11.7" lengthAdjust="spacing">***</text>
<rect x="520.20" y="151.95" width="4.25" height="86.50" fill="url(#hf)" stroke="#111" stroke-width="0.9"/>
<line x1="528.97" y1="138.30" x2="528.97" y2="143.10" stroke="#222" stroke-width="0.9"/>
<line x1="527.17" y1="138.30" x2="530.77" y2="138.30" stroke="#222" stroke-width="0.9"/>
<rect x="526.85" y="143.55" width="4.25" height="94.90" fill="url(#hb)" stroke="#111" stroke-width="0.9"/>
<rect x="533.50" y="229.05" width="4.25" height="9.40" fill="#000" stroke="#111" stroke-width="0.9"/>
<rect x="540.15" y="230.25" width="4.25" height="8.20" fill="#fff" stroke="#111" stroke-width="0.9"/>
<line x1="520.50" y1="119.50" x2="535.50" y2="119.50" stroke="#2e2e2e" stroke-width="1.0"/>
<line x1="520.50" y1="116.20" x2="520.50" y2="122.80" stroke="#2e2e2e" stroke-width="1.0"/>
<line x1="535.50" y1="116.20" x2="535.50" y2="122.80" stroke="#2e2e2e" stroke-width="1.0"/>
<text x="528.1" y="117.8" font-size="8.6" font-family='"Liberation Sans", sans-serif' font-weight="bold" text-anchor="middle" fill="#3a3a3a" textLength="11.7" lengthAdjust="spacing">***</text>
<line x1="528.50" y1="131.50" x2="535.50" y2="131.50" stroke="#2e2e2e" stroke-width="1.0"/>
<line x1="528.50" y1="128.20" x2="528.50" y2="134.80" stroke="#2e2e2e" stroke-width="1.0"/>
<line x1="535.50" y1="128.20" x2="535.50" y2="134.80" stroke="#2e2e2e" stroke-width="1.0"/>
<text x="532.0" y="130.4" font-size="8.6" font-family='"Liberation Sans", sans-serif' font-weight="bold" text-anchor="middle" fill="#3a3a3a" textLength="11.7" lengthAdjust="spacing">***</text>
<line x1="553.67" y1="143.10" x2="553.67" y2="146.20" stroke="#222" stroke-width="0.9"/>
<line x1="551.88" y1="143.10" x2="555.47" y2="143.10" stroke="#222" stroke-width="0.9"/>
<rect x="551.55" y="146.65" width="4.25" height="91.80" fill="url(#hf)" stroke="#111" stroke-width="0.9"/>
<line x1="560.33" y1="135.50" x2="560.33" y2="141.00" stroke="#222" stroke-width="0.9"/>
<line x1="558.53" y1="135.50" x2="562.12" y2="135.50" stroke="#222" stroke-width="0.9"/>
<rect x="558.20" y="141.45" width="4.25" height="97.00" fill="url(#hb)" stroke="#111" stroke-width="0.9"/>
<rect x="564.85" y="229.75" width="4.25" height="8.70" fill="#000" stroke="#111" stroke-width="0.9"/>
<rect x="571.50" y="231.05" width="4.25" height="7.40" fill="#fff" stroke="#111" stroke-width="0.9"/>
<line x1="551.50" y1="115.50" x2="566.50" y2="115.50" stroke="#2e2e2e" stroke-width="1.0"/>
<line x1="551.50" y1="112.20" x2="551.50" y2="118.80" stroke="#2e2e2e" stroke-width="1.0"/>
<line x1="566.50" y1="112.20" x2="566.50" y2="118.80" stroke="#2e2e2e" stroke-width="1.0"/>
<text x="559.1" y="113.4" font-size="8.6" font-family='"Liberation Sans", sans-serif' font-weight="bold" text-anchor="middle" fill="#3a3a3a" textLength="11.7" lengthAdjust="spacing">***</text>
<line x1="559.50" y1="128.50" x2="567.50" y2="128.50" stroke="#2e2e2e" stroke-width="1.0"/>
<line x1="559.50" y1="125.20" x2="559.50" y2="131.80" stroke="#2e2e2e" stroke-width="1.0"/>
<line x1="567.50" y1="125.20" x2="567.50" y2="131.80" stroke="#2e2e2e" stroke-width="1.0"/>
<text x="563.4" y="126.9" font-size="8.6" font-family='"Liberation Sans", sans-serif' font-weight="bold" text-anchor="middle" fill="#3a3a3a" textLength="11.7" lengthAdjust="spacing">***</text>
<line x1="585.03" y1="130.60" x2="585.03" y2="136.10" stroke="#222" stroke-width="0.9"/>
<line x1="583.23" y1="130.60" x2="586.83" y2="130.60" stroke="#222" stroke-width="0.9"/>
<rect x="582.90" y="136.55" width="4.25" height="101.90" fill="url(#hf)" stroke="#111" stroke-width="0.9"/>
<line x1="591.67" y1="133.00" x2="591.67" y2="135.00" stroke="#222" stroke-width="0.9"/>
<line x1="589.88" y1="133.00" x2="593.47" y2="133.00" stroke="#222" stroke-width="0.9"/>
<rect x="589.55" y="135.45" width="4.25" height="103.00" fill="url(#hb)" stroke="#111" stroke-width="0.9"/>
<rect x="596.20" y="230.55" width="4.25" height="7.90" fill="#000" stroke="#111" stroke-width="0.9"/>
<rect x="602.85" y="230.75" width="4.25" height="7.70" fill="#fff" stroke="#111" stroke-width="0.9"/>
<line x1="582.50" y1="111.50" x2="598.50" y2="111.50" stroke="#2e2e2e" stroke-width="1.0"/>
<line x1="582.50" y1="108.20" x2="582.50" y2="114.80" stroke="#2e2e2e" stroke-width="1.0"/>
<line x1="598.50" y1="108.20" x2="598.50" y2="114.80" stroke="#2e2e2e" stroke-width="1.0"/>
<text x="590.6" y="109.0" font-size="8.6" font-family='"Liberation Sans", sans-serif' font-weight="bold" text-anchor="middle" fill="#3a3a3a" textLength="11.7" lengthAdjust="spacing">***</text>
<line x1="590.50" y1="124.50" x2="598.50" y2="124.50" stroke="#2e2e2e" stroke-width="1.0"/>
<line x1="590.50" y1="121.20" x2="590.50" y2="127.80" stroke="#2e2e2e" stroke-width="1.0"/>
<line x1="598.50" y1="121.20" x2="598.50" y2="127.80" stroke="#2e2e2e" stroke-width="1.0"/>
<text x="594.6" y="122.5" font-size="8.6" font-family='"Liberation Sans", sans-serif' font-weight="bold" text-anchor="middle" fill="#3a3a3a" textLength="11.7" lengthAdjust="spacing">***</text>
<line x1="616.38" y1="117.80" x2="616.38" y2="125.90" stroke="#222" stroke-width="0.9"/>
<line x1="614.58" y1="117.80" x2="618.17" y2="117.80" stroke="#222" stroke-width="0.9"/>
<rect x="614.25" y="126.35" width="4.25" height="112.10" fill="url(#hf)" stroke="#111" stroke-width="0.9"/>
<line x1="623.03" y1="130.60" x2="623.03" y2="134.10" stroke="#222" stroke-width="0.9"/>
<line x1="621.23" y1="130.60" x2="624.83" y2="130.60" stroke="#222" stroke-width="0.9"/>
<rect x="620.90" y="134.55" width="4.25" height="103.90" fill="url(#hb)" stroke="#111" stroke-width="0.9"/>
<rect x="627.55" y="230.55" width="4.25" height="7.90" fill="#000" stroke="#111" stroke-width="0.9"/>
<rect x="634.20" y="230.75" width="4.25" height="7.70" fill="#fff" stroke="#111" stroke-width="0.9"/>
<line x1="614.50" y1="109.50" x2="629.50" y2="109.50" stroke="#2e2e2e" stroke-width="1.0"/>
<line x1="614.50" y1="106.20" x2="614.50" y2="112.80" stroke="#2e2e2e" stroke-width="1.0"/>
<line x1="629.50" y1="106.20" x2="629.50" y2="112.80" stroke="#2e2e2e" stroke-width="1.0"/>
<text x="622.0" y="106.9" font-size="8.6" font-family='"Liberation Sans", sans-serif' font-weight="bold" text-anchor="middle" fill="#3a3a3a" textLength="11.7" lengthAdjust="spacing">***</text>
<line x1="621.50" y1="121.50" x2="629.50" y2="121.50" stroke="#2e2e2e" stroke-width="1.0"/>
<line x1="621.50" y1="118.20" x2="621.50" y2="124.80" stroke="#2e2e2e" stroke-width="1.0"/>
<line x1="629.50" y1="118.20" x2="629.50" y2="124.80" stroke="#2e2e2e" stroke-width="1.0"/>
<text x="625.8" y="119.5" font-size="8.6" font-family='"Liberation Sans", sans-serif' font-weight="bold" text-anchor="middle" fill="#3a3a3a" textLength="11.7" lengthAdjust="spacing">***</text>
<line x1="647.73" y1="83.30" x2="647.73" y2="88.10" stroke="#222" stroke-width="0.9"/>
<line x1="645.93" y1="83.30" x2="649.53" y2="83.30" stroke="#222" stroke-width="0.9"/>
<rect x="645.60" y="88.55" width="4.25" height="149.90" fill="url(#hf)" stroke="#111" stroke-width="0.9"/>
<line x1="654.38" y1="116.20" x2="654.38" y2="118.30" stroke="#222" stroke-width="0.9"/>
<line x1="652.58" y1="116.20" x2="656.17" y2="116.20" stroke="#222" stroke-width="0.9"/>
<rect x="652.25" y="118.75" width="4.25" height="119.70" fill="url(#hb)" stroke="#111" stroke-width="0.9"/>
<rect x="658.90" y="225.85" width="4.25" height="12.60" fill="#000" stroke="#111" stroke-width="0.9"/>
<rect x="665.55" y="231.55" width="4.25" height="6.90" fill="#fff" stroke="#111" stroke-width="0.9"/>
<line x1="646.50" y1="75.50" x2="661.50" y2="75.50" stroke="#2e2e2e" stroke-width="1.0"/>
<line x1="646.50" y1="72.20" x2="646.50" y2="78.80" stroke="#2e2e2e" stroke-width="1.0"/>
<line x1="661.50" y1="72.20" x2="661.50" y2="78.80" stroke="#2e2e2e" stroke-width="1.0"/>
<text x="654.0" y="73.5" font-size="8.6" font-family='"Liberation Sans", sans-serif' font-weight="bold" text-anchor="middle" fill="#3a3a3a" textLength="11.7" lengthAdjust="spacing">***</text>
<line x1="654.50" y1="103.50" x2="662.50" y2="103.50" stroke="#2e2e2e" stroke-width="1.0"/>
<line x1="654.50" y1="100.20" x2="654.50" y2="106.80" stroke="#2e2e2e" stroke-width="1.0"/>
<line x1="662.50" y1="100.20" x2="662.50" y2="106.80" stroke="#2e2e2e" stroke-width="1.0"/>
<text x="658.8" y="101.6" font-size="8.6" font-family='"Liberation Sans", sans-serif' font-weight="bold" text-anchor="middle" fill="#3a3a3a" textLength="11.7" lengthAdjust="spacing">***</text>
<rect x="411.20" y="24.20" width="19.60" height="10.10" fill="url(#lgf)" stroke="#111" stroke-width="1.0"/>
<text x="440.9" y="31.8" font-size="16.2" font-family='"Liberation Serif", serif' textLength="119.5" lengthAdjust="spacingAndGlyphs" fill="#111">membrane protein</text>
<rect x="412.50" y="46.50" width="19.60" height="9.70" fill="url(#lgb)" stroke="#111" stroke-width="1.0"/>
<text x="440.9" y="54.7" font-size="16.2" font-family='"Liberation Serif", serif' textLength="108.0" lengthAdjust="spacingAndGlyphs" fill="#111">cytosolic protein</text>
<rect x="413.70" y="68.10" width="19.60" height="9.90" fill="#000" stroke="#111" stroke-width="1.0"/>
<text x="440.9" y="77.5" font-size="16.2" font-family='"Liberation Serif", serif' textLength="27.3" lengthAdjust="spacingAndGlyphs" fill="#111">BSA</text>
<rect x="414.50" y="89.90" width="19.60" height="9.70" fill="#fff" stroke="#111" stroke-width="1.0"/>
<text x="440.9" y="99.4" font-size="16.2" font-family='"Liberation Serif", serif' textLength="36.4" lengthAdjust="spacingAndGlyphs" fill="#111">Blank</text>
<text x="398.9" y="257.6" font-size="17" font-family='"Liberation Serif", serif' textLength="16.2" lengthAdjust="spacingAndGlyphs" fill="#111">10</text>
<text x="430.2" y="257.6" font-size="17" font-family='"Liberation Serif", serif' textLength="17.0" lengthAdjust="spacingAndGlyphs" fill="#111">20</text>
<text x="461.3" y="257.6" font-size="17" font-family='"Liberation Serif", serif' textLength="17.3" lengthAdjust="spacingAndGlyphs" fill="#111">40</text>
<text x="493.1" y="257.6" font-size="17" font-family='"Liberation Serif", serif' textLength="17.2" lengthAdjust="spacingAndGlyphs" fill="#111">80</text>
<text x="518.2" y="257.6" font-size="17" font-family='"Liberation Serif", serif' textLength="27.3" lengthAdjust="spacingAndGlyphs" fill="#111">160</text>
<text x="550.5" y="257.6" font-size="17" font-family='"Liberation Serif", serif' textLength="24.1" lengthAdjust="spacingAndGlyphs" fill="#111">320</text>
<text x="579.9" y="257.6" font-size="17" font-family='"Liberation Serif", serif' textLength="25.7" lengthAdjust="spacingAndGlyphs" fill="#111">640</text>
<text x="608.9" y="257.6" font-size="17" font-family='"Liberation Serif", serif' textLength="33.6" lengthAdjust="spacingAndGlyphs" fill="#111">1280</text>
<text x="654.2" y="255.0" font-size="15.5" font-family='"Liberation Serif", serif' textLength="17.5" lengthAdjust="spacingAndGlyphs" fill="#111">no</text>
<text x="644.0" y="266.3" font-size="14.5" font-family='"Liberation Serif", serif' textLength="40.0" lengthAdjust="spacingAndGlyphs" fill="#111">serum</text>
<text x="408.3" y="280.6" font-size="20.5" font-family='"Liberation Serif", serif' textLength="228.5" lengthAdjust="spacingAndGlyphs" fill="#111">Antiserum dilution (folds)</text>
<text x="0" y="0" font-size="17.6" font-family='"Liberation Serif", serif' fill="#111" transform="translate(353.7 202.0) rotate(-90)" textLength="109.5" lengthAdjust="spacingAndGlyphs">Adhesion (OD</text>
<text x="0" y="0" font-size="14.2" font-family='"Liberation Serif", serif' fill="#111" transform="translate(357.4 92.8) rotate(-90)" textLength="21.3" lengthAdjust="spacingAndGlyphs">630</text>
<text x="0" y="0" font-size="17.6" font-family='"Liberation Serif", serif' fill="#111" transform="translate(353.7 71.7) rotate(-90)">)</text>
<line x1="88.00" y1="345.80" x2="88.00" y2="495.80" stroke="#111" stroke-width="1.7"/>
<line x1="83.50" y1="495.60" x2="88.00" y2="495.60" stroke="#111" stroke-width="1.4"/>
<text x="82.2" y="499.6" font-size="11" font-family='"Liberation Sans", sans-serif' font-weight="bold" text-anchor="end" fill="#111">0</text>
<line x1="83.50" y1="464.45" x2="88.00" y2="464.45" stroke="#111" stroke-width="1.4"/>
<text x="82.2" y="468.5" font-size="11" font-family='"Liberation Sans", sans-serif' font-weight="bold" text-anchor="end" fill="#111">5</text>
<line x1="83.50" y1="433.30" x2="88.00" y2="433.30" stroke="#111" stroke-width="1.4"/>
<text x="82.2" y="437.3" font-size="11" font-family='"Liberation Sans", sans-serif' font-weight="bold" text-anchor="end" fill="#111">10</text>
<line x1="83.50" y1="402.15" x2="88.00" y2="402.15" stroke="#111" stroke-width="1.4"/>
<text x="82.2" y="406.2" font-size="11" font-family='"Liberation Sans", sans-serif' font-weight="bold" text-anchor="end" fill="#111">15</text>
<line x1="83.50" y1="371.00" x2="88.00" y2="371.00" stroke="#111" stroke-width="1.4"/>
<text x="82.2" y="375.0" font-size="11" font-family='"Liberation Sans", sans-serif' font-weight="bold" text-anchor="end" fill="#111">20</text>
<line x1="83.50" y1="495.80" x2="322.60" y2="495.80" stroke="#111" stroke-width="1.6"/>
<line x1="104.70" y1="495.80" x2="104.70" y2="500.80" stroke="#111" stroke-width="1.4"/>
<line x1="138.15" y1="495.80" x2="138.15" y2="500.80" stroke="#111" stroke-width="1.4"/>
<line x1="171.60" y1="495.80" x2="171.60" y2="500.80" stroke="#111" stroke-width="1.4"/>
<line x1="205.05" y1="495.80" x2="205.05" y2="500.80" stroke="#111" stroke-width="1.4"/>
<line x1="238.50" y1="495.80" x2="238.50" y2="500.80" stroke="#111" stroke-width="1.4"/>
<line x1="271.95" y1="495.80" x2="271.95" y2="500.80" stroke="#111" stroke-width="1.4"/>
<line x1="305.40" y1="495.80" x2="305.40" y2="500.80" stroke="#111" stroke-width="1.4"/>
<line x1="104.85" y1="369.60" x2="104.85" y2="377.90" stroke="#111" stroke-width="2.4"/>
<line x1="98.40" y1="369.60" x2="111.00" y2="369.60" stroke="#111" stroke-width="2.4"/>
<rect x="94.35" y="379.15" width="21.00" height="116.40" fill="url(#fcC)" stroke="#111" stroke-width="2.5"/>
<line x1="138.45" y1="378.20" x2="138.45" y2="390.50" stroke="#111" stroke-width="2.4"/>
<line x1="132.00" y1="378.20" x2="144.30" y2="378.20" stroke="#111" stroke-width="2.4"/>
<rect x="128.15" y="391.75" width="20.60" height="103.80" fill="url(#ccC)" stroke="#111" stroke-width="2.5"/>
<line x1="171.60" y1="413.20" x2="171.60" y2="416.70" stroke="#111" stroke-width="2.4"/>
<line x1="165.20" y1="413.20" x2="177.70" y2="413.20" stroke="#111" stroke-width="2.4"/>
<rect x="160.95" y="417.95" width="21.30" height="77.60" fill="url(#hlC)" stroke="#111" stroke-width="2.5"/>
<text x="171.6" y="415.4" font-size="11" font-family='"Liberation Sans", sans-serif' font-weight="bold" text-anchor="middle" fill="#333" textLength="9.4" lengthAdjust="spacing">**</text>
<line x1="205.10" y1="437.80" x2="205.10" y2="438.90" stroke="#111" stroke-width="2.4"/>
<line x1="199.10" y1="437.80" x2="211.10" y2="437.80" stroke="#111" stroke-width="2.4"/>
<rect x="194.65" y="440.15" width="20.90" height="55.40" fill="url(#vlC)" stroke="#111" stroke-width="2.5"/>
<text x="205.1" y="440.4" font-size="11" font-family='"Liberation Sans", sans-serif' font-weight="bold" text-anchor="middle" fill="#333" textLength="14.1" lengthAdjust="spacing">***</text>
<line x1="238.35" y1="450.90" x2="238.35" y2="461.70" stroke="#111" stroke-width="2.4"/>
<line x1="232.30" y1="450.90" x2="244.70" y2="450.90" stroke="#111" stroke-width="2.4"/>
<clipPath id="clip423"><rect x="228.20" y="463.20" width="20.30" height="33.10"/></clipPath>
<rect x="228.20" y="463.20" width="20.30" height="33.10" fill="#fff"/>
<path clip-path="url(#clip423)" d="M192.39,498.30L229.49,461.20M194.75,498.30L231.85,461.20M197.11,498.30L234.21,461.20M199.47,498.30L236.57,461.20M201.83,498.30L238.93,461.20M204.19,498.30L241.29,461.20M206.55,498.30L243.65,461.20M208.91,498.30L246.01,461.20M211.27,498.30L248.37,461.20M213.63,498.30L250.73,461.20M215.99,498.30L253.09,461.20M218.35,498.30L255.45,461.20M220.71,498.30L257.81,461.20M223.07,498.30L260.17,461.20M225.43,498.30L262.53,461.20M227.79,498.30L264.89,461.20M230.15,498.30L267.25,461.20M232.51,498.30L269.61,461.20M234.87,498.30L271.97,461.20M237.23,498.30L274.33,461.20M239.59,498.30L276.69,461.20M241.95,498.30L279.05,461.20M244.31,498.30L281.41,461.20M246.67,498.30L283.77,461.20" stroke="#333" stroke-width="0.66" fill="none"/>
<rect x="227.95" y="462.95" width="20.80" height="32.60" fill="none" stroke="#111" stroke-width="2.5"/>
<text x="238.3" y="453.1" font-size="11" font-family='"Liberation Sans", sans-serif' font-weight="bold" text-anchor="middle" fill="#333" textLength="14.1" lengthAdjust="spacing">***</text>
<line x1="272.25" y1="467.30" x2="272.25" y2="472.60" stroke="#111" stroke-width="2.4"/>
<line x1="266.40" y1="467.30" x2="278.00" y2="467.30" stroke="#111" stroke-width="2.4"/>
<clipPath id="clip430"><rect x="262.30" y="474.10" width="19.90" height="22.20"/></clipPath>
<rect x="262.30" y="474.10" width="19.90" height="22.20" fill="#fff"/>
<path clip-path="url(#clip430)" d="M237.39,472.10L263.59,498.30M239.75,472.10L265.95,498.30M242.11,472.10L268.31,498.30M244.47,472.10L270.67,498.30M246.83,472.10L273.03,498.30M249.19,472.10L275.39,498.30M251.55,472.10L277.75,498.30M253.91,472.10L280.11,498.30M256.27,472.10L282.47,498.30M258.63,472.10L284.83,498.30M260.99,472.10L287.19,498.30M263.35,472.10L289.55,498.30M265.71,472.10L291.91,498.30M268.07,472.10L294.27,498.30M270.43,472.10L296.63,498.30M272.79,472.10L298.99,498.30M275.15,472.10L301.35,498.30M277.51,472.10L303.71,498.30M279.87,472.10L306.07,498.30M282.23,472.10L308.43,498.30" stroke="#333" stroke-width="0.66" fill="none"/>
<rect x="262.05" y="473.85" width="20.40" height="21.70" fill="none" stroke="#111" stroke-width="2.5"/>
<text x="272.2" y="466.3" font-size="11" font-family='"Liberation Sans", sans-serif' font-weight="bold" text-anchor="middle" fill="#333" textLength="14.1" lengthAdjust="spacing">***</text>
<line x1="305.35" y1="486.90" x2="305.35" y2="487.70" stroke="#111" stroke-width="2.4"/>
<line x1="299.30" y1="486.90" x2="311.40" y2="486.90" stroke="#111" stroke-width="2.4"/>
<rect x="294.95" y="488.95" width="20.80" height="6.60" fill="url(#gr)" stroke="#111" stroke-width="2.5"/>
<text x="305.4" y="485.9" font-size="11" font-family='"Liberation Sans", sans-serif' font-weight="bold" text-anchor="middle" fill="#333" textLength="14.1" lengthAdjust="spacing">***</text>
<text x="73.0" y="520.1" font-size="17" font-family='"Liberation Serif", serif' textLength="43.5" lengthAdjust="spacingAndGlyphs" fill="#111">Blank</text>
<text x="119.4" y="521.4" font-size="17" font-family='"Liberation Serif", serif' textLength="32.8" lengthAdjust="spacingAndGlyphs" fill="#111">BSA</text>
<text x="159.2" y="521.9" font-size="17" font-family='"Liberation Serif", serif' textLength="22.0" lengthAdjust="spacingAndGlyphs" fill="#111">2.5</text>
<text x="200.9" y="521.9" font-size="17" font-family='"Liberation Serif", serif' textLength="8.8" lengthAdjust="spacingAndGlyphs" fill="#111">5</text>
<text x="229.7" y="521.9" font-size="17" font-family='"Liberation Serif", serif' textLength="17.5" lengthAdjust="spacingAndGlyphs" fill="#111">10</text>
<text x="264.0" y="521.5" font-size="17" font-family='"Liberation Serif", serif' textLength="16.4" lengthAdjust="spacingAndGlyphs" fill="#111">20</text>
<text x="286.9" y="519.5" font-size="17" font-family='"Liberation Serif", serif' textLength="79.8" lengthAdjust="spacingAndGlyphs" fill="#111">membrane</text>
<text x="124.7" y="538.9" font-size="17" font-family='"Liberation Serif", serif' textLength="28.4" lengthAdjust="spacingAndGlyphs" fill="#111">5μg</text>
<text x="297.1" y="541.4" font-size="17" font-family='"Liberation Serif", serif' textLength="30.2" lengthAdjust="spacingAndGlyphs" fill="#111">5 μg</text>
<line x1="157.70" y1="529.30" x2="280.40" y2="529.30" stroke="#222" stroke-width="1.1"/>
<text x="173.6" y="547.9" font-size="17.5" font-family='"Liberation Serif", serif' textLength="81.8" lengthAdjust="spacingAndGlyphs" fill="#111">rNOX(μg )</text>
<text x="0" y="0" font-size="18.2" font-family='"Liberation Serif", serif' fill="#111" transform="translate(51.5 491.6) rotate(-90)" textLength="136.6" lengthAdjust="spacingAndGlyphs">Adhesion rate (%)</text>
<line x1="414.30" y1="326.40" x2="414.30" y2="494.80" stroke="#111" stroke-width="1.7"/>
<line x1="409.50" y1="494.80" x2="414.30" y2="494.80" stroke="#111" stroke-width="1.4"/>
<text x="408.6" y="499.2" font-size="12" font-family='"Liberation Sans", sans-serif' font-weight="bold" text-anchor="end" fill="#111">0</text>
<line x1="409.50" y1="461.30" x2="414.30" y2="461.30" stroke="#111" stroke-width="1.4"/>
<text x="408.6" y="465.7" font-size="12" font-family='"Liberation Sans", sans-serif' font-weight="bold" text-anchor="end" fill="#111">5</text>
<line x1="409.50" y1="427.80" x2="414.30" y2="427.80" stroke="#111" stroke-width="1.4"/>
<text x="408.6" y="432.2" font-size="12" font-family='"Liberation Sans", sans-serif' font-weight="bold" text-anchor="end" fill="#111">10</text>
<line x1="409.50" y1="394.30" x2="414.30" y2="394.30" stroke="#111" stroke-width="1.4"/>
<text x="408.6" y="398.7" font-size="12" font-family='"Liberation Sans", sans-serif' font-weight="bold" text-anchor="end" fill="#111">15</text>
<line x1="409.50" y1="360.80" x2="414.30" y2="360.80" stroke="#111" stroke-width="1.4"/>
<text x="408.6" y="365.2" font-size="12" font-family='"Liberation Sans", sans-serif' font-weight="bold" text-anchor="end" fill="#111">20</text>
<line x1="409.50" y1="327.30" x2="414.30" y2="327.30" stroke="#111" stroke-width="1.4"/>
<text x="408.6" y="331.7" font-size="12" font-family='"Liberation Sans", sans-serif' font-weight="bold" text-anchor="end" fill="#111">25</text>
<line x1="409.50" y1="494.80" x2="666.30" y2="494.80" stroke="#111" stroke-width="1.6"/>
<line x1="435.70" y1="494.80" x2="435.70" y2="499.80" stroke="#111" stroke-width="1.4"/>
<line x1="477.45" y1="494.80" x2="477.45" y2="499.80" stroke="#111" stroke-width="1.4"/>
<line x1="519.20" y1="494.80" x2="519.20" y2="499.80" stroke="#111" stroke-width="1.4"/>
<line x1="560.95" y1="494.80" x2="560.95" y2="499.80" stroke="#111" stroke-width="1.4"/>
<line x1="602.70" y1="494.80" x2="602.70" y2="499.80" stroke="#111" stroke-width="1.4"/>
<line x1="644.45" y1="494.80" x2="644.45" y2="499.80" stroke="#111" stroke-width="1.4"/>
<line x1="435.40" y1="353.50" x2="435.40" y2="375.20" stroke="#111" stroke-width="2.4"/>
<line x1="427.50" y1="353.50" x2="443.50" y2="353.50" stroke="#111" stroke-width="2.4"/>
<rect x="422.15" y="376.45" width="26.50" height="118.10" fill="url(#fcD)" stroke="#111" stroke-width="2.5"/>
<line x1="477.10" y1="367.40" x2="477.10" y2="382.10" stroke="#111" stroke-width="2.4"/>
<line x1="469.40" y1="367.40" x2="485.30" y2="367.40" stroke="#111" stroke-width="2.4"/>
<rect x="463.75" y="383.35" width="26.70" height="111.20" fill="url(#ccD)" stroke="#111" stroke-width="2.5"/>
<line x1="519.20" y1="412.60" x2="519.20" y2="418.30" stroke="#111" stroke-width="2.4"/>
<line x1="511.50" y1="412.60" x2="527.00" y2="412.60" stroke="#111" stroke-width="2.4"/>
<rect x="505.85" y="419.55" width="26.70" height="75.00" fill="url(#hlD)" stroke="#111" stroke-width="2.5"/>
<text x="519.2" y="412.1" font-size="12" font-family='"Liberation Sans", sans-serif' font-weight="bold" text-anchor="middle" fill="#333" textLength="5.0" lengthAdjust="spacing">*</text>
<line x1="560.95" y1="417.70" x2="560.95" y2="420.60" stroke="#111" stroke-width="2.4"/>
<line x1="553.60" y1="417.70" x2="569.00" y2="417.70" stroke="#111" stroke-width="2.4"/>
<rect x="547.45" y="421.85" width="27.00" height="72.70" fill="url(#vlD)" stroke="#111" stroke-width="2.5"/>
<text x="561.0" y="418.6" font-size="12" font-family='"Liberation Sans", sans-serif' font-weight="bold" text-anchor="middle" fill="#333" textLength="5.0" lengthAdjust="spacing">*</text>
<line x1="602.95" y1="442.10" x2="602.95" y2="443.40" stroke="#111" stroke-width="2.4"/>
<line x1="595.50" y1="442.10" x2="610.80" y2="442.10" stroke="#111" stroke-width="2.4"/>
<clipPath id="clip487"><rect x="590.00" y="444.90" width="25.90" height="50.40"/></clipPath>
<rect x="590.00" y="444.90" width="25.90" height="50.40" fill="#fff"/>
<path clip-path="url(#clip487)" d="M536.85,497.30L591.25,442.90M539.35,497.30L593.75,442.90M541.85,497.30L596.25,442.90M544.35,497.30L598.75,442.90M546.85,497.30L601.25,442.90M549.35,497.30L603.75,442.90M551.85,497.30L606.25,442.90M554.35,497.30L608.75,442.90M556.85,497.30L611.25,442.90M559.35,497.30L613.75,442.90M561.85,497.30L616.25,442.90M564.35,497.30L618.75,442.90M566.85,497.30L621.25,442.90M569.35,497.30L623.75,442.90M571.85,497.30L626.25,442.90M574.35,497.30L628.75,442.90M576.85,497.30L631.25,442.90M579.35,497.30L633.75,442.90M581.85,497.30L636.25,442.90M584.35,497.30L638.75,442.90M586.85,497.30L641.25,442.90M589.35,497.30L643.75,442.90M591.85,497.30L646.25,442.90M594.35,497.30L648.75,442.90M596.85,497.30L651.25,442.90M599.35,497.30L653.75,442.90M601.85,497.30L656.25,442.90M604.35,497.30L658.75,442.90M606.85,497.30L661.25,442.90M609.35,497.30L663.75,442.90M611.85,497.30L666.25,442.90M614.35,497.30L668.75,442.90" stroke="#333" stroke-width="0.66" fill="none"/>
<rect x="589.75" y="444.65" width="26.40" height="49.90" fill="none" stroke="#111" stroke-width="2.5"/>
<text x="603.0" y="441.2" font-size="12" font-family='"Liberation Sans", sans-serif' font-weight="bold" text-anchor="middle" fill="#333" textLength="10.0" lengthAdjust="spacing">**</text>
<line x1="644.80" y1="450.70" x2="644.80" y2="454.20" stroke="#111" stroke-width="2.4"/>
<line x1="637.10" y1="450.70" x2="652.60" y2="450.70" stroke="#111" stroke-width="2.4"/>
<clipPath id="clip494"><rect x="631.80" y="455.70" width="26.00" height="39.60"/></clipPath>
<rect x="631.80" y="455.70" width="26.00" height="39.60" fill="#fff"/>
<path clip-path="url(#clip494)" d="M589.45,453.70L633.05,497.30M591.95,453.70L635.55,497.30M594.45,453.70L638.05,497.30M596.95,453.70L640.55,497.30M599.45,453.70L643.05,497.30M601.95,453.70L645.55,497.30M604.45,453.70L648.05,497.30M606.95,453.70L650.55,497.30M609.45,453.70L653.05,497.30M611.95,453.70L655.55,497.30M614.45,453.70L658.05,497.30M616.95,453.70L660.55,497.30M619.45,453.70L663.05,497.30M621.95,453.70L665.55,497.30M624.45,453.70L668.05,497.30M626.95,453.70L670.55,497.30M629.45,453.70L673.05,497.30M631.95,453.70L675.55,497.30M634.45,453.70L678.05,497.30M636.95,453.70L680.55,497.30M639.45,453.70L683.05,497.30M641.95,453.70L685.55,497.30M644.45,453.70L688.05,497.30M646.95,453.70L690.55,497.30M649.45,453.70L693.05,497.30M651.95,453.70L695.55,497.30M654.45,453.70L698.05,497.30M656.95,453.70L700.55,497.30" stroke="#333" stroke-width="0.66" fill="none"/>
<rect x="631.55" y="455.45" width="26.50" height="39.10" fill="none" stroke="#111" stroke-width="2.5"/>
<text x="644.8" y="448.7" font-size="12" font-family='"Liberation Sans", sans-serif' font-weight="bold" text-anchor="middle" fill="#333" textLength="10.0" lengthAdjust="spacing">**</text>
<text x="422.3" y="521.7" font-size="17" font-family='"Liberation Serif", serif' textLength="22.7" lengthAdjust="spacingAndGlyphs" fill="#111">No</text>
<text x="407.6" y="535.0" font-size="17" font-family='"Liberation Serif", serif' textLength="46.6" lengthAdjust="spacingAndGlyphs" fill="#111">serum</text>
<text x="464.2" y="521.7" font-size="17" font-family='"Liberation Serif", serif' textLength="28.8" lengthAdjust="spacingAndGlyphs" fill="#111">Ctrl</text>
<text x="458.0" y="535.0" font-size="17" font-family='"Liberation Serif", serif' textLength="46.6" lengthAdjust="spacingAndGlyphs" fill="#111">serum</text>
<text x="461.1" y="550.3" font-size="17" font-family='"Liberation Serif", serif' textLength="38.0" lengthAdjust="spacingAndGlyphs" fill="#111">1:400</text>
<text x="509.2" y="522.5" font-size="17" font-family='"Liberation Serif", serif' textLength="25.8" lengthAdjust="spacingAndGlyphs" fill="#111">400</text>
<text x="549.2" y="522.5" font-size="17" font-family='"Liberation Serif", serif' textLength="25.6" lengthAdjust="spacingAndGlyphs" fill="#111">200</text>
<text x="590.3" y="523.3" font-size="17" font-family='"Liberation Serif", serif' textLength="25.8" lengthAdjust="spacingAndGlyphs" fill="#111">100</text>
<text x="634.0" y="522.9" font-size="17" font-family='"Liberation Serif", serif' textLength="17.2" lengthAdjust="spacingAndGlyphs" fill="#111">50</text>
<line x1="521.10" y1="530.40" x2="643.10" y2="530.40" stroke="#222" stroke-width="1.1"/>
<text x="511.1" y="550.0" font-size="17.5" font-family='"Liberation Serif", serif' textLength="145.5" lengthAdjust="spacingAndGlyphs" fill="#111">Antiserum dilution</text>
<text x="562.5" y="564.3" font-size="17.5" font-family='"Liberation Serif", serif' textLength="48.2" lengthAdjust="spacingAndGlyphs" fill="#111">(folds)</text>
<text x="0" y="0" font-size="18.2" font-family='"Liberation Serif", serif' fill="#111" transform="translate(376.3 491.0) rotate(-90)" textLength="137.1" lengthAdjust="spacingAndGlyphs">Adhesion rate (%)</text>
</svg>
</body></html>
